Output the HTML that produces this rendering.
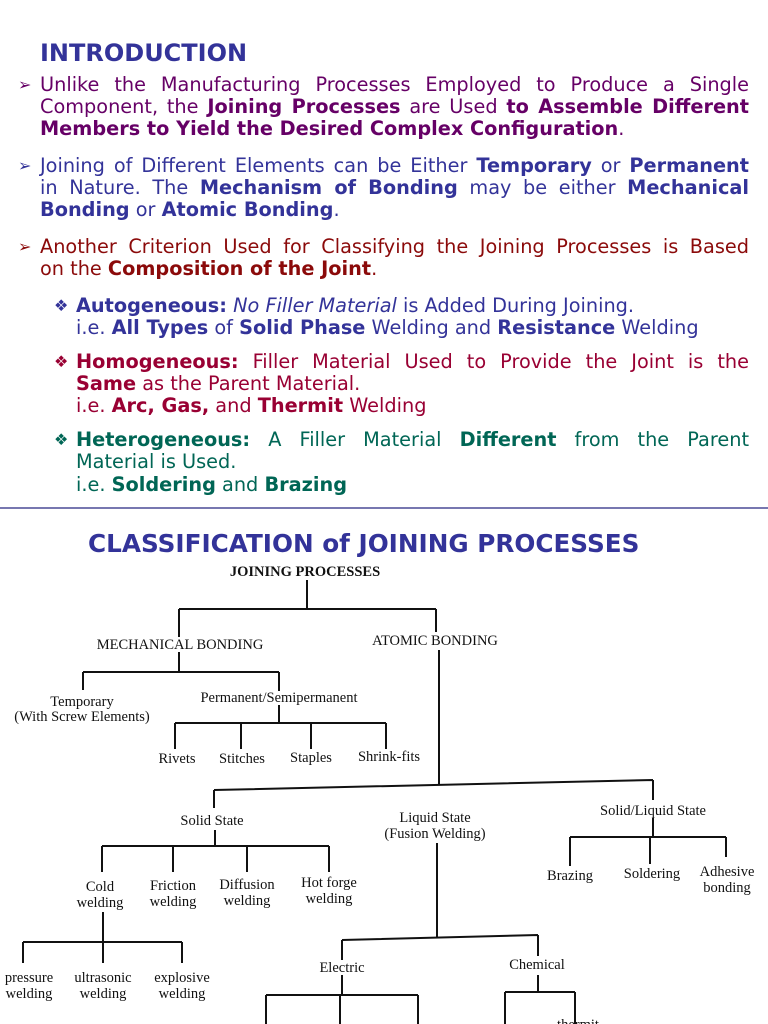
<!DOCTYPE html>
<html><head><meta charset="utf-8"><style>
html,body{margin:0;padding:0;background:#fff;}
body{width:768px;height:1024px;position:relative;overflow:hidden;font-family:"DejaVu Sans","Liberation Sans",sans-serif;}
.l{position:absolute;left:40px;width:709px;font-size:19.3px;line-height:22px;white-space:nowrap;}
.j{text-align:justify;text-align-last:justify;}
.s{left:76px;width:673px;}
.p{color:#660066}.b{color:#333399}.r{color:#8b0a0a}.c{color:#990033}.t{color:#006655}
.bul{position:absolute;left:18px;font-size:16px;line-height:22px;}
.dia{position:absolute;left:54px;font-size:16px;line-height:22px;}
</style></head><body>
<div style="position:absolute;left:40px;top:39px;font-size:24px;font-weight:bold;color:#333399;">INTRODUCTION</div>

<div class="bul p" style="top:74px">➢</div>
<div class="l j p" style="top:74px">Unlike the Manufacturing Processes Employed to Produce a Single</div>
<div class="l j p" style="top:96px">Component, the <b>Joining Processes</b> are Used <b>to Assemble Different</b></div>
<div class="l p" style="top:118px"><b>Members to Yield the Desired Complex Configuration</b>.</div>

<div class="bul b" style="top:155px">➢</div>
<div class="l j b" style="top:155px">Joining of Different Elements can be Either <b>Temporary</b> or <b>Permanent</b></div>
<div class="l j b" style="top:177px">in Nature. The <b>Mechanism of Bonding</b> may be either <b>Mechanical</b></div>
<div class="l b" style="top:199px"><b>Bonding</b> or <b>Atomic Bonding</b>.</div>

<div class="bul r" style="top:236px">➢</div>
<div class="l j r" style="top:236px">Another Criterion Used for Classifying the Joining Processes is Based</div>
<div class="l r" style="top:258px">on the <b>Composition of the Joint</b>.</div>

<div class="dia b" style="top:295px">❖</div>
<div class="l s b" style="top:295px"><b>Autogeneous:</b> <i>No Filler Material</i> is Added During Joining.</div>
<div class="l s b" style="top:317px">i.e. <b>All Types</b> of <b>Solid Phase</b> Welding and <b>Resistance</b> Welding</div>

<div class="dia c" style="top:351px">❖</div>
<div class="l s j c" style="top:351px"><b>Homogeneous:</b> Filler Material Used to Provide the Joint is the</div>
<div class="l s c" style="top:373px"><b>Same</b> as the Parent Material.</div>
<div class="l s c" style="top:395px">i.e. <b>Arc, Gas,</b> and <b>Thermit</b> Welding</div>

<div class="dia t" style="top:429px">❖</div>
<div class="l s j t" style="top:429px"><b>Heterogeneous:</b> A Filler Material <b>Different</b> from the Parent</div>
<div class="l s t" style="top:451px">Material is Used.</div>
<div class="l s t" style="top:474px">i.e. <b>Soldering</b> and <b>Brazing</b></div>

<div style="position:absolute;left:0;top:507px;width:768px;height:2px;background:#7777b0;"></div>
<div style="position:absolute;left:88px;top:529px;font-size:24.7px;font-weight:bold;color:#333399;white-space:nowrap;">CLASSIFICATION of JOINING PROCESSES</div>

<svg style="position:absolute;left:0;top:0" width="768" height="1024" xmlns="http://www.w3.org/2000/svg">
<g stroke="#111" stroke-width="2" fill="none">
<path d="M307 580V609M179 609H436M179 609V637M436 609V632M439 650V785M437 843V938"/>
<path d="M179 652V672M83 672H279M83 672V690M279 672V691M279 705V723M175 723H386M175 723V749M241 723V749M311 723V749M386 723V749"/>
<path d="M214 790L653 780M214 790V808M653 780V800"/>
<path d="M215 830V846M102 846H329M102 846V872M173 846V872M247 846V872M329 846V872"/>
<path d="M103 912V942M23 942H182M23 942V963M103 942V963M182 942V963"/>
<path d="M653 818V837M570 837H726M570 837V866M650 837V864M726 837V857"/>
<path d="M342 940L538 935M342 940V960M538 935V956"/>
<path d="M342 975V995M266 995H418M266 995V1024M340 995V1024M418 995V1024"/>
<path d="M538 975V992M505 992H575M505 992V1024M575 992V1024"/>
</g>
<g font-family="Liberation Serif, serif" font-size="14.5" fill="#111" text-anchor="middle">
<text x="305" y="576" font-weight="bold">JOINING PROCESSES</text>
<text x="180" y="649">MECHANICAL BONDING</text>
<text x="435" y="645">ATOMIC BONDING</text>
<text x="82" y="706">Temporary</text>
<text x="82" y="721">(With Screw Elements)</text>
<text x="279" y="702">Permanent/Semipermanent</text>
<text x="177" y="763">Rivets</text>
<text x="242" y="763">Stitches</text>
<text x="311" y="762">Staples</text>
<text x="389" y="761">Shrink-fits</text>
<text x="212" y="825">Solid State</text>
<text x="435" y="822">Liquid State</text>
<text x="435" y="838">(Fusion Welding)</text>
<text x="653" y="815">Solid/Liquid State</text>
<text x="100" y="891">Cold</text>
<text x="100" y="907">welding</text>
<text x="173" y="890">Friction</text>
<text x="173" y="906">welding</text>
<text x="247" y="889">Diffusion</text>
<text x="247" y="905">welding</text>
<text x="329" y="887">Hot forge</text>
<text x="329" y="903">welding</text>
<text x="29" y="982">pressure</text>
<text x="29" y="998">welding</text>
<text x="103" y="982">ultrasonic</text>
<text x="103" y="998">welding</text>
<text x="182" y="982">explosive</text>
<text x="182" y="998">welding</text>
<text x="570" y="880">Brazing</text>
<text x="652" y="878">Soldering</text>
<text x="727" y="876">Adhesive</text>
<text x="727" y="892">bonding</text>
<text x="342" y="972">Electric</text>
<text x="537" y="969">Chemical</text>
<text x="578" y="1029">thermit</text>
</g>
</svg>
</body></html>
